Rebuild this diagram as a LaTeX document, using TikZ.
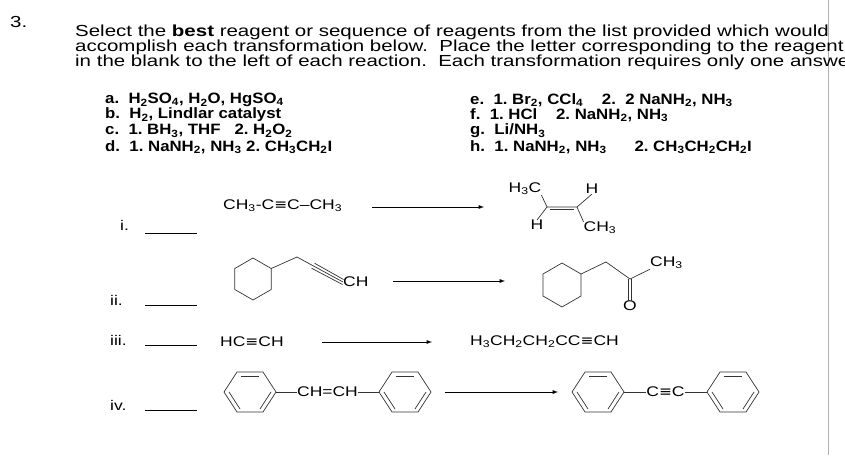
\documentclass[tikz,border=0pt]{standalone}
\usepackage{fontspec}
\usetikzlibrary{calc}
\setmainfont{Liberation Sans}
\newfontfamily\hfont[FakeStretch=1.28]{Liberation Sans}
\newfontfamily\lfont[FakeStretch=1.12]{Liberation Sans}
\newfontfamily\cfont[FakeStretch=1.25]{Liberation Sans}
\newfontfamily\dvs[FakeStretch=1.1]{DejaVu Sans}
\newcommand{\tb}{{\dvs ≡}}
\newcommand{\ssb}[1]{\textsubscript{#1}}
\begin{document}
\begin{tikzpicture}[x=1pt,y=-1pt,
  hdr/.style={anchor=west,inner sep=0pt,font=\hfont\fontsize{16}{17}\selectfont},
  lst/.style={anchor=west,inner sep=0pt,font=\lfont\fontsize{15}{16}\selectfont\bfseries},
  chem/.style={inner sep=0pt,font=\cfont\fontsize{14}{15}\selectfont},
  bond/.style={line width=0.7pt,draw=black!80},
  arr/.style={line width=0.9pt,-latex},
  blank/.style={line width=0.8pt}]
\useasboundingbox[fill=white] (0,0) rectangle (845,455);
\draw[gray!60,line width=1pt] (828,0) -- (828,455);
\node[hdr] (n3) at (10,22) {3.};
\node[hdr] (h1) at (75,32) {Select the \textbf{best} reagent or sequence of reagents from the list provided which would};
\node[hdr] (h2) at (75,47) {accomplish each transformation below.\ \ Place the letter corresponding to the reagent};
\node[hdr] (h3) at (75,62) {in the blank to the left of each reaction.\ \ Each transformation requires only one answer.};
\node[lst] (la) at (105,100) {a.\ \ H\ssb{2}SO\ssb{4}, H\ssb{2}O, HgSO\ssb{4}};
\node[lst] (lb) at (105,115) {b.\ \ H\ssb{2}, Lindlar catalyst};
\node[lst] (lc) at (105,131) {c.\ \ 1.\ BH\ssb{3}, THF\ \ \ 2.\ H\ssb{2}O\ssb{2}};
\node[lst] (ld) at (105,147) {d.\ \ 1.\ NaNH\ssb{2}, NH\ssb{3} 2.\ CH\ssb{3}CH\ssb{2}I};
\node[lst] (le) at (470,100) {e.\ \ 1.\ Br\ssb{2}, CCl\ssb{4}\ \ \ \ 2.\ \ 2 NaNH\ssb{2}, NH\ssb{3}};
\node[lst] (lf) at (470,115) {f.\ \ 1.\ HCl\ \ \ \ 2.\ NaNH\ssb{2}, NH\ssb{3}};
\node[lst] (lg) at (470,131) {g.\ \ Li/NH\ssb{3}};
\node[lst] (lh) at (470,147) {h.\ \ 1.\ NaNH\ssb{2}, NH\ssb{3}\ \ \ \ \ \ 2.\ CH\ssb{3}CH\ssb{2}CH\ssb{2}I};
% numerals and blanks
\node[chem,anchor=west] (r1) at (120,225) {i.};
\node[chem,anchor=west] (r2) at (110,300) {ii.};
\node[chem,anchor=west] (r3) at (110,340) {iii.};
\node[chem,anchor=west] (r4) at (110,405) {iv.};
\coordinate (b1a) at (145,233); \coordinate (b1b) at (197,233);
\coordinate (b2a) at (145,305); \coordinate (b2b) at (197,305);
\coordinate (b3a) at (145,345); \coordinate (b3b) at (197,345);
\coordinate (b4a) at (145,410); \coordinate (b4b) at (197,410);
\draw[blank] (b1a)--(b1b); \draw[blank] (b2a)--(b2b); \draw[blank] (b3a)--(b3b); \draw[blank] (b4a)--(b4b);
% reaction i
\node[chem,anchor=west] (s1) at (223,206) {CH\ssb{3}-C\tb C–CH\ssb{3}};
\coordinate (a1s) at (372,207); \coordinate (a1e) at (484,207);
\draw[arr] (a1s)--(a1e);
\coordinate (c1) at (547,207); \coordinate (c2) at (577,207);
\node[chem] (p1a) at (525,189) {H\ssb{3}C};
\node[chem] (p1b) at (592,189) {H};
\node[chem] (p1c) at (537,225) {H};
\node[chem] (p1d) at (600,228) {CH\ssb{3}};
\draw[bond] (p1a.south east)--(c1)--(c2)--(p1b.south);
\draw[bond] ($(c1)+(3,2.5)$)--($(c2)+(-3,2.5)$);
\draw[bond] (c1)--(p1c.north); \draw[bond] (c2)--(p1d.north west);
% reaction ii
\draw[bond] (253,258) -- (271.2,268.5) -- (271.2,289.5) -- (253,300) -- (234.8,289.5) -- (234.8,268.5) -- cycle;
\coordinate (k1) at (297,257);
\node[chem,anchor=west] (ch) at (343,282) {CH};
\draw[bond] (271.2,268.5)--(k1)--(ch.west);
\draw[bond] ($(k1)!0.35!(ch.west)+(1.5,-2.5)$)--($(ch.west)+(0.5,-2.5)$);
\draw[bond] ($(k1)!0.35!(ch.west)+(-1.5,2.5)$)--($(ch.west)+(-0.5,2.5)$);
\coordinate (a2s) at (393,281); \coordinate (a2e) at (505,281);
\draw[arr] (a2s)--(a2e);
\draw[bond] (562,263) -- (581,274) -- (581,296) -- (562,307) -- (543,296) -- (543,274) -- cycle;
\coordinate (q1) at (606,262); \coordinate (q2) at (630,279);
\node[chem,anchor=west] (ch3b) at (650,263) {CH\ssb{3}};
\node[chem] (ox) at (630,306) {O};
\draw[bond] (581,274)--(q1)--(q2)--(ch3b.south west);
\draw[bond] ($(q2)+(-1.5,0)$)--($(ox.north)+(-1.5,0)$);
\draw[bond] ($(q2)+(1.5,0)$)--($(ox.north)+(1.5,0)$);
% reaction iii
\node[chem,anchor=west] (s3) at (220,342) {HC\tb CH};
\coordinate (a3s) at (322,342); \coordinate (a3e) at (432,342);
\draw[arr] (a3s)--(a3e);
\node[chem,anchor=west] (p3) at (470,342) {H\ssb{3}CH\ssb{2}CH\ssb{2}CC\tb CH};
% reaction iv
\foreach \cx/\nm in {250/bA,405/bB,598/bC,733/bD}{
  \draw[bond] (\cx-26,392) -- (\cx-13,372) -- (\cx+13,372) -- (\cx+26,392) -- (\cx+13,412) -- (\cx-13,412) -- cycle;
  \draw[bond] (\cx-9,376) -- (\cx+9,376);
  \draw[bond] (\cx+21,392) -- (\cx+10,409);
  \draw[bond] (\cx-21,392) -- (\cx-10,409);
  \coordinate (\nm L) at (\cx-26,392); \coordinate (\nm R) at (\cx+26,392);
}
\node[chem] (s4) at (327.5,392) {CH=CH};
\draw[bond] (bAR)--(s4.west); \draw[bond] (s4.east)--(bBL);
\coordinate (a4s) at (445,392); \coordinate (a4e) at (558,392);
\draw[arr] (a4s)--(a4e);
\node[chem] (p4) at (665.5,392) {C\tb C};
\draw[bond] (bCR)--(p4.west); \draw[bond] (p4.east)--(bDL);
\end{tikzpicture}
\end{document}
